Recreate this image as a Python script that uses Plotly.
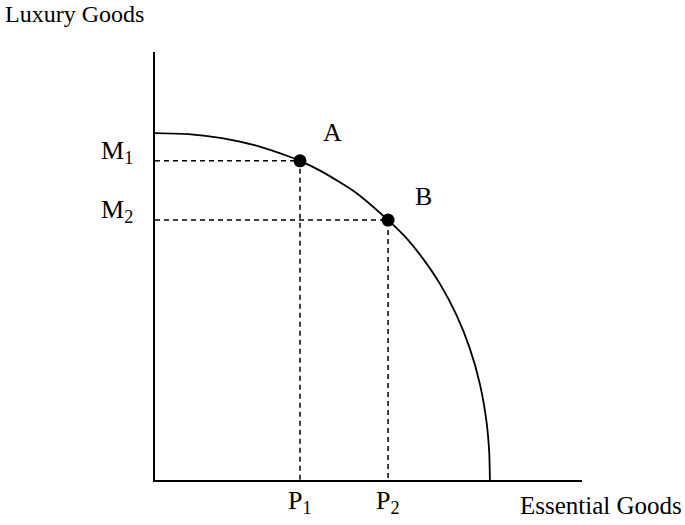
"""
Frontera de posibilidades de producción: bienes de lujo vs. bienes esenciales.
"""
import plotly.graph_objects as go

# Curva (unidades arbitrarias)
curva_x = [0.0, 1.0, 2.0, 3.0, 4.0, 4.33, 5.0, 6.0, 6.96, 7.5, 8.0, 8.5, 9.0, 9.4, 9.7, 9.9, 9.98, 10.0]
curva_y = [10.36, 10.33, 10.21, 9.99, 9.66, 9.53, 9.20, 8.58, 7.76, 7.23, 6.61, 5.87, 4.93, 3.93, 2.87, 1.73, 0.82, 0.0]

# Puntos A y B
puntos = ["A", "B"]
puntos_x = [4.33, 6.96]
puntos_y = [9.53, 7.76]
etiquetas_x = ["P<sub>1</sub>", "P<sub>2</sub>"]
etiquetas_y = ["M<sub>1</sub>", "M<sub>2</sub>"]

X_MAX = 12.75
Y_MAX = 12.78
FUENTE = dict(family="Liberation Serif, Times New Roman, serif", size=26, color="black")

fig = go.Figure()

# líneas punteadas hacia los ejes
for px_, py_ in zip(puntos_x, puntos_y):
    fig.add_trace(go.Scatter(x=[0, px_, px_], y=[py_, py_, 0], mode="lines",
                             line=dict(color="black", width=1.5, dash="5px,4px"),
                             hoverinfo="skip", showlegend=False))

fig.add_trace(go.Scatter(x=curva_x, y=curva_y, mode="lines",
                         line=dict(color="black", width=1.8, shape="spline", smoothing=0.6),
                         showlegend=False))

fig.add_trace(go.Scatter(x=puntos_x, y=puntos_y, mode="markers",
                         marker=dict(color="black", size=13), showlegend=False))

# etiquetas A y B
for nombre, px_, py_, dx, dy in zip(puntos, puntos_x, puntos_y, [32, 35], [28, 24]):
    fig.add_annotation(x=px_, y=py_, text=nombre, showarrow=False,
                       xshift=dx, yshift=dy, font=FUENTE)

# etiquetas de ejes M y P
for texto, py_ in zip(etiquetas_y, puntos_y):
    fig.add_annotation(x=0, y=py_, text=texto, showarrow=False, xanchor="right",
                       xshift=-20, yshift=9, font=FUENTE)
for texto, px_ in zip(etiquetas_x, puntos_x):
    fig.add_annotation(x=px_, y=0, text=texto, showarrow=False, yanchor="top",
                       xshift=0, yshift=-4, font=FUENTE)

fig.add_annotation(x=1.0, xref="paper", xanchor="right", y=0, yanchor="top",
                   xshift=102, yshift=-10, text="Essential Goods", showarrow=False,
                   font=dict(FUENTE, size=25))
fig.add_annotation(x=0, xref="paper", xanchor="left", y=1.0, yref="paper", yanchor="bottom",
                   xshift=-152, yshift=23, text="Luxury Goods", showarrow=False,
                   font=dict(FUENTE, size=24))

fig.update_xaxes(range=[0, X_MAX], showline=True, linecolor="black", linewidth=1.8,
                 showgrid=False, zeroline=False, showticklabels=False, ticks="")
fig.update_yaxes(range=[0, Y_MAX], showline=True, linecolor="black", linewidth=1.8,
                 showgrid=False, zeroline=False, showticklabels=False, ticks="")

fig.update_layout(width=685, height=525, margin=dict(l=155, r=103, t=52, b=45),
                  plot_bgcolor="white", paper_bgcolor="white")

fig.write_html("out.html", config={"displayModeBar": False},
               post_script="document.body.style.margin='0';")
